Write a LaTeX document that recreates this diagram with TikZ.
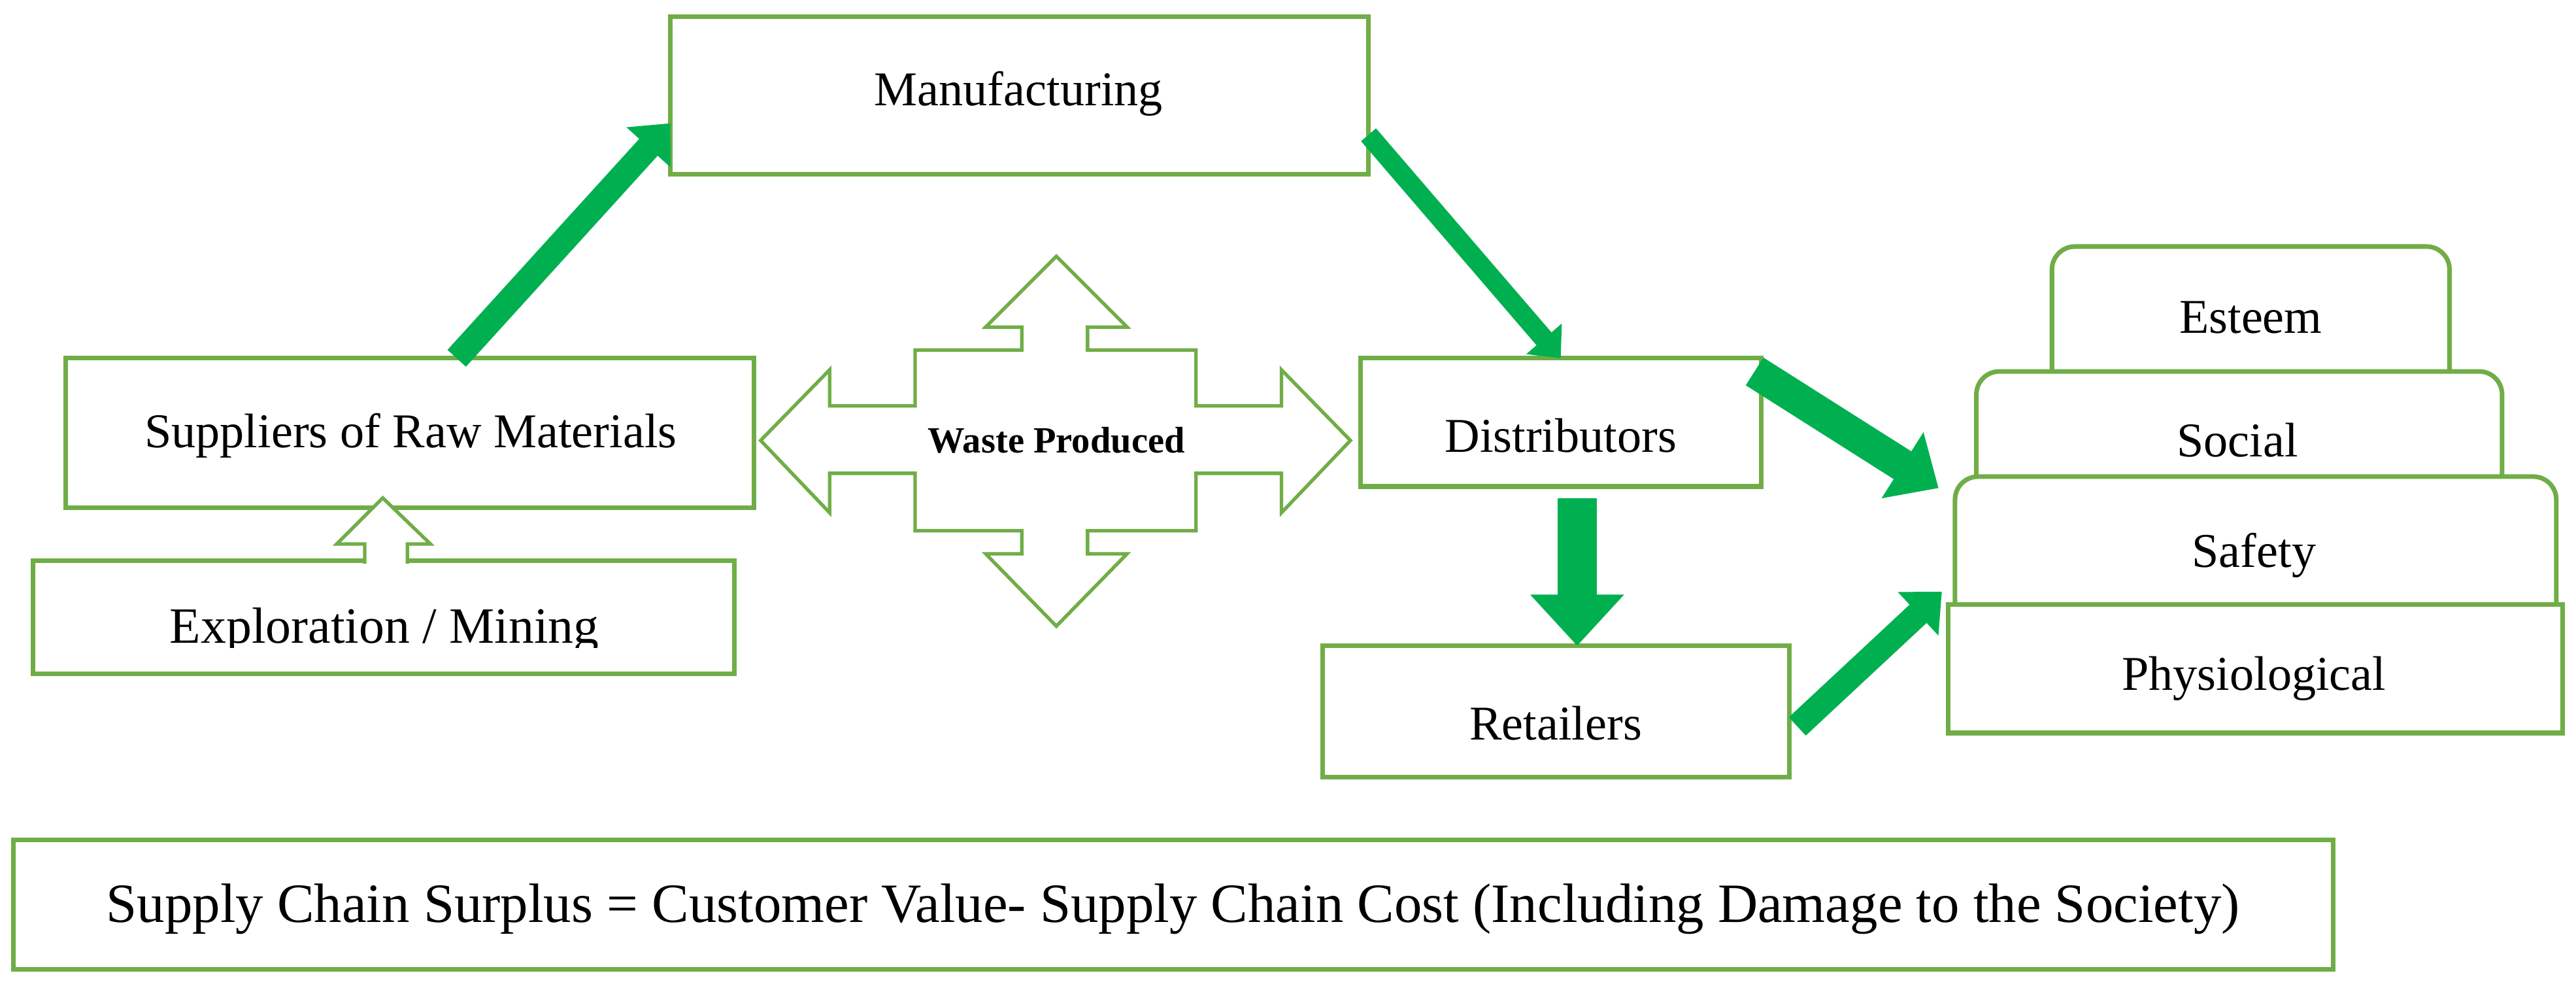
\documentclass[tikz,border=0pt]{standalone}
\usepackage{fontspec}
\setmainfont{Liberation Serif}
\usetikzlibrary{arrows.meta,calc}
\definecolor{gline}{HTML}{70AD47}
\definecolor{garrow}{HTML}{00B050}
\begin{document}
\begin{tikzpicture}[x=0.025cm,y=-0.025cm,
  box/.style={draw=gline,line width=2pt,inner sep=0pt},
  txt/.style={font=\fontsize{21}{24}\selectfont},
  big/.style={draw=garrow,line width=#1,-{Triangle[width=2.3*#1,length=1.3*#1]}},
  hollow/.style={draw=gline,line width=1.5pt,fill=white}]
\useasboundingbox (0,0) rectangle (1568,601);
% boxes
\draw[box] (408,10) rectangle (833,106);
\node[txt] (man) at (620,57) {Manufacturing};
\coordinate (manL) at (408,75);
\coordinate (manR) at (833,82);
\draw[box] (40,218) rectangle (459,309);
\node[txt] (sup) at (250,265) {Suppliers of Raw Materials};
\coordinate (supT) at (278,218);
\draw[box] (828,218) rectangle (1072,296);
\node[txt] (dis) at (950,265) {Distributors};
\coordinate (disT) at (950,218);
\coordinate (disR) at (1068,226);
\coordinate (disB) at (960,303);
\draw[box] (805,393) rectangle (1089,473);
\node[txt] (ret) at (947,440) {Retailers};
\coordinate (retT) at (960,393);
\coordinate (retR) at (1094,442);
\draw[box] (8,511) rectangle (1420,590);
\node[font=\fontsize{24}{28}\selectfont] (eq) at (714,553) {Supply Chain Surplus = Customer Value- Supply Chain Cost (Including Damage to the Society)};
% exploration
\draw[box] (20,341) rectangle (447,410);
\begin{scope}
\clip (20,341) rectangle (447,394);
\node[font=\fontsize{22}{26}\selectfont] (exp) at (234,384) {Exploration / Mining};
\end{scope}
\draw[hollow] (222,343) -- (222,331) -- (205,331) -- (233,303) -- (262,331) -- (248,331) -- (248,343);
% waste cross
\draw[hollow] (643,156)--(686,199)--(662,199)--(662,213)--(728,213)--(728,247)--(780,247)--(780,225)--(822,268)--(780,312)--(780,288)--(728,288)--(728,323)--(662,323)--(662,337)--(686,337)--(643,381)--(600,337)--(622,337)--(622,323)--(557,323)--(557,288)--(505,288)--(505,312)--(463,268)--(505,225)--(505,247)--(557,247)--(557,213)--(622,213)--(622,199)--(600,199)--cycle;
\node[font=\bfseries\fontsize{16}{19}\selectfont] (waste) at (643,268) {Waste Produced};
% pyramid
\draw[box] (1249,226) {[rounded corners=0.35cm] -- (1249,150) -- (1491,150)} -- (1491,226);
\draw[box] (1203,290) {[rounded corners=0.35cm] -- (1203,226) -- (1523,226)} -- (1523,290);
\draw[box] (1190,368) {[rounded corners=0.35cm] -- (1190,290) -- (1556,290)} -- (1556,368);
\draw[box] (1186,368) rectangle (1560,446);
\node[txt] (est) at (1370,193) {Esteem};
\node[txt] (soc) at (1362,268) {Social};
\node[txt] (saf) at (1372,338) {Safety};
\node[txt] (phy) at (1372,413) {Physiological};
\coordinate (pyrA) at (1180,297);
\coordinate (pyrB) at (1182,360);
% green arrows
\draw[big=0.38cm] (supT) -- (manL);
\draw[big=0.3cm] (manR) -- (disT);
\draw[big=0.5cm] (disR) -- (pyrA);
\draw[big=0.6cm] (disB) -- (retT);
\draw[big=0.38cm] (retR) -- (pyrB);
\end{tikzpicture}
\end{document}
